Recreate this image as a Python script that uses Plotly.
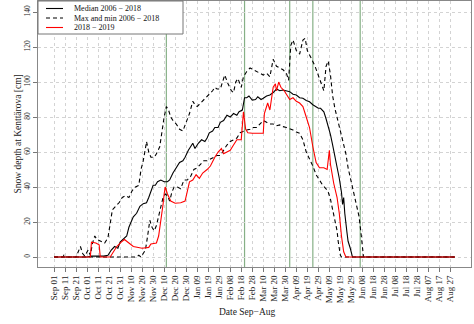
import pandas as pd
import plotly.graph_objects as go

START = pd.Timestamp("2018-09-01")

# ---- data (day offset from 1 Sep, snow depth in cm) ----
median_day = [0, 30, 34, 40, 45, 49, 52, 55, 58, 60, 63, 66, 68, 70, 72, 75, 78, 81, 84, 86, 88, 90,
              92, 94, 97, 100, 103, 105, 108, 111, 114, 117, 119, 122, 124, 126, 128, 131, 134, 137,
              139, 141, 144, 146, 149, 151, 154, 157, 160, 163, 166, 168, 171, 173, 175, 177, 180,
              183, 185, 188, 190, 193, 196, 199, 202, 205, 208, 211, 214, 217, 220, 223, 226, 229,
              232, 235, 237, 240, 242, 245, 247, 249, 251, 253, 255, 257, 259, 261, 262, 263, 264,
              266, 267, 269, 270, 271, 364]
median_cm = [0, 0, 0.5, 0.5, 0.5, 1, 4, 6, 5, 8.5, 10, 12, 17, 20, 23, 25, 29, 30.5, 31, 34, 38, 41,
             41, 43, 44, 43, 43, 44, 48, 51, 54, 55, 57, 61, 63, 65, 62, 65, 67, 66,
             68, 71, 72, 74, 74, 77, 78, 81, 80, 82, 81, 83, 84, 91, 91, 92, 89.7,
             90, 91.6, 90, 90.7, 92, 92.6, 94, 96, 95, 95.4, 95, 94.5, 93, 92.6, 91, 90.7, 89.5,
             88.7, 87, 86, 85, 85, 83, 79, 75, 70, 64, 58, 53, 45, 37, 30, 34, 25,
             14, 9, 5, 2, 0, 0]

max_day = [0, 8, 9, 10, 20, 22, 24, 26, 28, 31, 33, 35, 37, 39, 42, 46, 49, 51, 53, 56, 59, 62, 65,
           68, 71, 74, 77, 79, 81, 83, 84, 86, 88, 91, 93, 96, 98, 100, 102, 104, 106, 108, 111,
           114, 117, 120, 123, 126, 128, 130, 133, 136, 139, 142, 144, 146, 148, 151, 153, 155,
           158, 161, 163, 165, 167, 170, 172, 175, 178, 181, 184, 187, 190, 193, 196, 199, 202,
           205, 208, 211, 213, 215, 217, 220, 223, 226, 228, 230, 232, 234, 237, 240, 243, 245,
           247, 249, 251, 253, 255, 257, 260, 263, 265, 267, 269, 271, 273, 275, 277, 279, 280,
           281, 364]
max_cm = [0, 0, 1, 0, 0, 3, 6, 2, 0.5, 4, 1, 8, 12, 10, 9, 8, 11, 20, 27, 29, 31, 34, 35,
          34, 38, 40, 41, 50, 55, 62, 66, 60, 57, 57, 59, 63, 72, 80, 86, 84, 80, 78, 76,
          73, 72, 77, 82, 89, 87, 86, 88, 90, 92, 94, 95, 97, 96, 96, 100, 104,
          99, 95, 94, 100, 102, 97, 103, 106, 108, 107, 106, 105, 104, 105, 103, 113, 109,
          108, 107, 105, 101, 121, 124, 118, 116, 124, 125, 118, 115, 113, 109, 104, 98, 95,
          109, 112, 104, 92, 85, 80, 73, 65, 59, 51, 45, 40, 34, 29, 23, 12, 5,
          0, 0]

min_day = [0, 75, 77, 79, 81, 83, 85, 87, 89, 91, 93, 95, 97, 99, 101, 103, 105, 107, 109, 112,
           115, 118, 121, 124, 127, 130, 133, 136, 139, 142, 145, 148, 151, 154, 157, 160, 163,
           166, 169, 172, 175, 178, 181, 184, 187, 190, 193, 196, 199, 202, 205, 208, 211, 214,
           217, 220, 223, 226, 229, 232, 235, 238, 241, 244, 247, 249, 251, 253, 255, 257, 258,
           259, 260, 261, 364]
min_cm = [0, 0, 1, 0, 2, 4, 12, 21, 17, 15, 18, 23, 28, 34, 36, 35, 32, 37, 40, 40,
          39, 44, 44, 46, 50, 51, 53, 55, 55, 56, 57, 58, 58, 61, 64, 66, 67,
          68, 71, 72, 72.6, 73, 74, 74, 76, 78, 77, 76, 76, 75, 75.5, 74.5, 74, 73.5,
          72.6, 71.5, 70.7, 67, 60, 56, 52, 47, 44, 41, 39, 37, 33, 27, 22, 15, 9,
          4, 1, 0, 0]

season_day = [0, 33, 34, 38, 41, 42, 51, 54, 57, 61, 64, 68, 72, 80, 86, 88, 93, 95, 97, 99, 100,
              101, 103, 106, 110, 115, 119, 121, 123, 126, 129, 132, 135, 139, 142, 146, 149, 152,
              154, 157, 160, 163, 166, 170, 171, 172, 174, 176, 180, 190, 191, 193, 194, 196, 199,
              201, 202, 204, 206, 209, 212, 214, 217, 220, 223, 226, 229, 232, 235, 238, 241, 245,
              248, 250, 251, 254, 257, 259, 261, 263, 265, 364]
season_cm = [0, 0, 8.5, 8, 7, 0, 0, 3, 6, 8.5, 10, 8, 6, 5, 5.5, 7.5, 8, 12, 20, 30, 36,
             40, 36, 32, 30.7, 31, 32, 37, 43, 44, 47, 45, 48, 50, 52, 57, 60, 62,
             59, 60, 61, 64, 67, 67, 75, 83, 73, 71, 70.7, 70.7, 82, 86, 88, 84, 97,
             99, 95, 100, 97, 95, 92, 90, 91, 89, 88, 86, 80, 74, 63, 54, 51, 51,
             50, 61, 53, 42, 34, 25, 12, 3, 0, 0]

event_day = [102, 173, 214, 235, 278]

legend_labels = ["Median 2006 \u2212 2018", "Max and min 2006 \u2212 2018", "2018 \u2212 2019"]
x_title = "Date Sep\u2212Aug"
y_title = "Snow depth at Kentt\u00e4rova [cm]"
y_ticks = [0, 20, 40, 60, 80, 100, 120, 140]


def to_dates(days):
    return [START + pd.Timedelta(days=d) for d in days]


FONT = "Liberation Serif"
DASH = "4px,3px"

fig = go.Figure()
fig.add_trace(go.Scatter(x=to_dates(median_day), y=median_cm, mode="lines",
                         line=dict(color="black", width=1.1), name=legend_labels[0],
                         showlegend=False))
fig.add_trace(go.Scatter(x=to_dates(max_day), y=max_cm, mode="lines",
                         line=dict(color="black", width=1.1, dash=DASH), name="Max 2006 \u2212 2018",
                         showlegend=False))
fig.add_trace(go.Scatter(x=to_dates(min_day), y=min_cm, mode="lines",
                         line=dict(color="black", width=1.1, dash=DASH), name="Min 2006 \u2212 2018",
                         showlegend=False))
fig.add_trace(go.Scatter(x=to_dates(season_day), y=season_cm, mode="lines",
                         line=dict(color="#FF0000", width=1.1), name=legend_labels[2],
                         showlegend=False))

for d in to_dates(event_day):
    fig.add_shape(type="line", xref="x", yref="paper", x0=d, x1=d, y0=0, y1=1,
                  line=dict(color="#86B086", width=1.2), layer="below")

# legend box (pixel geometry converted to paper coordinates)
L, R, T, B = 38, 471, 1, 267
W, H = R - L, B - T


def px(x):
    return (x - L) / W


def py(y):
    return (B - y) / H


fig.add_shape(type="rect", xref="paper", yref="paper", x0=px(38), x1=px(183), y0=py(34), y1=py(1),
              line=dict(color="#777777", width=1), fillcolor="white", layer="above")
rows = [8.5, 18, 27.5]
styles = [dict(color="black", width=1.1), dict(color="black", width=1.1, dash=DASH),
          dict(color="#FF0000", width=1.1)]
for yy, st, lab in zip(rows, styles, legend_labels):
    fig.add_shape(type="line", xref="paper", yref="paper", x0=px(46), x1=px(63), y0=py(yy), y1=py(yy),
                  line=st, layer="above")
    fig.add_annotation(xref="paper", yref="paper", x=px(72), y=py(yy), text=lab, showarrow=False,
                       xanchor="left", yanchor="middle", font=dict(family=FONT, size=8, color="#111"))

# axis titles
fig.add_annotation(xref="paper", yref="paper", x=px(247), y=py(312), text=x_title, showarrow=False,
                   xanchor="center", yanchor="middle", font=dict(family=FONT, size=9.5, color="#222"))
fig.add_annotation(xref="paper", yref="paper", x=px(17.5), y=py(134), text=y_title, showarrow=False,
                   textangle=-90, xanchor="center", yanchor="middle",
                   font=dict(family=FONT, size=9.5, color="#222"))

x0 = START + pd.Timedelta(days=-14.53)
x1 = START + pd.Timedelta(days=378.6)
tickvals = pd.date_range(START, periods=37, freq="10D")

fig.update_layout(
    width=474, height=324,
    margin=dict(l=L, r=474 - R, t=T, b=324 - B),
    paper_bgcolor="white", plot_bgcolor="white",
    font=dict(family=FONT, color="#222"),
    xaxis=dict(type="date", range=[x0, x1], tickvals=list(tickvals), tickformat="%b %d",
               tickangle=-90, tickfont=dict(size=9, family=FONT), ticks="outside", ticklen=4,
               tickcolor="#777", showline=True, mirror=True, linecolor="#888", linewidth=1,
               showgrid=True, gridcolor="#D3D3D3", griddash="dot", gridwidth=1,
               zeroline=False),
    yaxis=dict(range=[-5.71, 146.3], tickvals=y_ticks, tickangle=-90,
               tickfont=dict(size=7.5, family=FONT), ticks="outside", ticklen=4, tickcolor="#777",
               showline=True, mirror=True, linecolor="#888", linewidth=1,
               showgrid=True, gridcolor="#D3D3D3", griddash="dot", gridwidth=1, zeroline=False),
)

fig.write_html("out.html")
